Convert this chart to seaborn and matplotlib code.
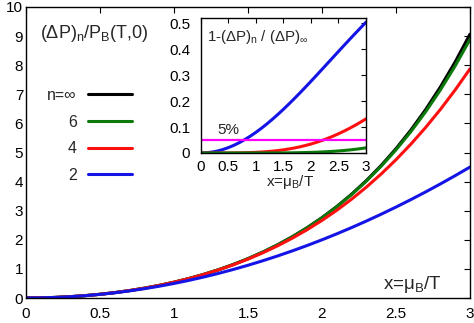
import numpy as np
import pandas as pd
import matplotlib
matplotlib.use("Agg")
import matplotlib.pyplot as plt
from matplotlib.lines import Line2D
import seaborn as sns

# Reduced chemical potential x = mu_B / T
x = [0.0, 0.1, 0.2, 0.3, 0.4, 0.5, 0.6, 0.7, 0.8, 0.9, 1.0,
     1.1, 1.2, 1.3, 1.4, 1.5, 1.6, 1.7, 1.8, 1.9, 2.0,
     2.1, 2.2, 2.3, 2.4, 2.5, 2.6, 2.7, 2.8, 2.9, 3.0]

# (Delta P)_n / P_B(T,0) for the full sum and truncated Taylor orders
p_inf = [0.0, 0.005004, 0.020067, 0.045339, 0.081072, 0.127626, 0.185465, 0.255169,
         0.337435, 0.433086, 0.543081, 0.668519, 0.810656, 0.970914, 1.150898, 1.352410,
         1.577464, 1.828315, 2.107473, 2.417732, 2.762196, 3.144313, 3.567908, 4.037221,
         4.556947, 5.132289, 5.769006, 6.473469, 7.252728, 8.114584, 9.067662]
p_6 = [0.0, 0.005004, 0.020067, 0.045339, 0.081072, 0.127626, 0.185465, 0.255167,
       0.337431, 0.433076, 0.543056, 0.668464, 0.810547, 0.970708, 1.150525, 1.351758,
       1.576369, 1.826528, 2.104639, 2.413346, 2.755556, 3.134458, 3.553539, 4.016609,
       4.527821, 5.091688, 5.713117, 6.397422, 7.150359, 7.978148, 8.887500]
p_4 = [0.0, 0.005004, 0.020067, 0.045338, 0.081067, 0.127604, 0.185400, 0.255004,
       0.337067, 0.432338, 0.541667, 0.666004, 0.806400, 0.964004, 1.140067, 1.335938,
       1.553067, 1.793004, 2.057400, 2.348004, 2.666667, 3.015338, 3.396067, 3.811004,
       4.262400, 4.752604, 5.284067, 5.859338, 6.481067, 7.152004, 7.875000]
p_2 = [0.0, 0.005, 0.02, 0.045, 0.08, 0.125, 0.18, 0.245, 0.32, 0.405, 0.5,
       0.605, 0.72, 0.845, 0.98, 1.125, 1.28, 1.445, 1.62, 1.805, 2.0,
       2.205, 2.42, 2.645, 2.88, 3.125, 3.38, 3.645, 3.92, 4.205, 4.5]

threshold = 0.05

series_labels = ["n=\u221e", "6", "4", "2"]
series_colors = ["#000000", "#0b7a0b", "#ff1010", "#1414e6"]

main_xticks = [0, 0.5, 1, 1.5, 2, 2.5, 3]
main_xticklabels = ["0", "0.5", "1", "1.5", "2", "2.5", "3"]
main_yticks = [0, 1, 2, 3, 4, 5, 6, 7, 8, 9, 10]
main_yticklabels = ["0", "1", "2", "3", "4", "5", "6", "7", "8", "9", "10"]
inset_yticks = [0, 0.1, 0.2, 0.3, 0.4, 0.5]
inset_yticklabels = ["0", "0.1", "0.2", "0.3", "0.4", "0.5"]

sns.set_style("white")
plt.rcParams["font.family"] = ["Liberation Sans", "DejaVu Sans"]
plt.rcParams["mathtext.fontset"] = "custom"
plt.rcParams["mathtext.rm"] = "Liberation Sans"
plt.rcParams["mathtext.it"] = "Liberation Sans"
plt.rcParams["mathtext.bf"] = "Liberation Sans:bold"

xs = np.array(x)
curves = {"inf": np.array(p_inf), "6": np.array(p_6), "4": np.array(p_4), "2": np.array(p_2)}

fig = plt.figure(figsize=(4.74, 3.23), dpi=100)
ax = fig.add_axes([26 / 474, 25 / 323, 444 / 474, 291 / 323])

lw = 2.2
for key, col in zip(["inf", "6", "4", "2"], series_colors):
    sns.lineplot(x=xs, y=curves[key], ax=ax, color=col, linewidth=lw, legend=False)

ax.set_xlim(0, 3)
ax.set_ylim(0, 10)
ax.set_xticks(main_xticks)
ax.set_xticklabels(main_xticklabels)
ax.set_yticks(main_yticks)
ax.set_yticklabels(main_yticklabels)
ax.tick_params(axis="both", direction="in", length=4, width=0.8, colors="black",
               labelsize=11, top=True, right=True)
ax.tick_params(axis="x", pad=6.8)
ax.tick_params(axis="y", pad=2)
for s in ax.spines.values():
    s.set_color("black")
    s.set_linewidth(1.0)

ax.text(0.0315, 0.91, r"$(\Delta P)_n/P_B(T{,}0)$", transform=ax.transAxes,
        ha="left", va="center", fontsize=13)
ax.text(0.937, 0.045, r"x=$\mu_B$/T", transform=ax.transAxes,
        ha="right", va="center", fontsize=13.5)

handles = [Line2D([], [], color=c, linewidth=lw) for c in series_colors]
ax.legend(handles, series_labels, loc="upper right", bbox_to_anchor=(0.2387, 0.722),
          frameon=False, markerfirst=False, fontsize=11.5, handlelength=2.75,
          handletextpad=0.7, labelspacing=0.73, borderpad=0, borderaxespad=0)

# Inset: relative deviation of truncated series from the full result
axi = fig.add_axes([200.7 / 474, (323 - 153) / 323, 165.3 / 474, 135 / 323])
with np.errstate(divide="ignore", invalid="ignore"):
    for key, col in [("2", series_colors[3]), ("4", series_colors[2]), ("6", series_colors[1])]:
        dev = np.where(curves["inf"] > 0, 1 - curves[key] / curves["inf"], 0.0)
        sns.lineplot(x=xs, y=dev, ax=axi, color=col, linewidth=lw, legend=False)
axi.axhline(threshold, color="#ff00ff", linewidth=1.6)

axi.set_xlim(0, 3)
axi.set_ylim(0, 0.52)
axi.set_xticks(main_xticks)
axi.set_xticklabels(main_xticklabels)
axi.set_yticks(inset_yticks)
axi.set_yticklabels(inset_yticklabels)
axi.tick_params(axis="both", direction="in", length=3.5, width=0.8, colors="black",
                labelsize=11, top=True, right=True)
axi.tick_params(axis="x", pad=5)
axi.tick_params(axis="y", pad=7.5)
for s in axi.spines.values():
    s.set_color("black")
    s.set_linewidth(1.0)
axi.set_facecolor("white")

axi.text(0.04, 0.86, r"1-$(\Delta P)_n$ / $(\Delta P)_\infty$", transform=axi.transAxes,
         ha="left", va="center", fontsize=10.8)
axi.text(0.1, 0.17, "5%", transform=axi.transAxes, ha="left", va="center", fontsize=11)
axi.text(0.543, -0.215, r"x=$\mu_B$/T", transform=axi.transAxes,
         ha="center", va="center", fontsize=11)

fig.savefig("out.png", dpi=100)
